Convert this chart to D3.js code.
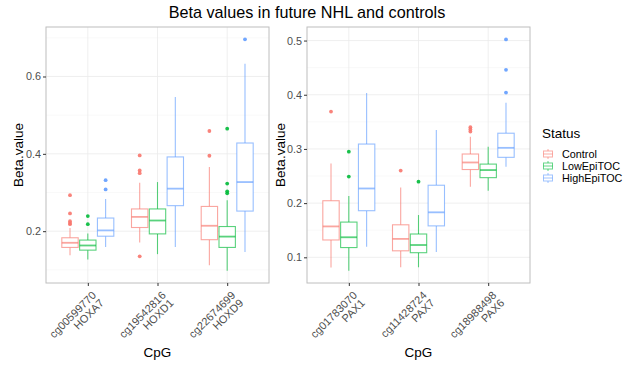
<!DOCTYPE html>
<html>
<head>
<meta charset="utf-8">
<script src="https://cdn.jsdelivr.net/npm/d3@7"></script>
<style>
  body { margin: 0; background: #fff; }
  svg { font-family: "Liberation Sans", Arial, sans-serif; }
</style>
</head>
<body>
<svg id="chart" width="641" height="376"></svg>
<script>
// status groups
const statuses = ["Control", "LowEpiTOC", "HighEpiTOC"];
const statusColors = ["#F8766D", "#00BA38", "#619CFF"];

// left panel (HOX genes): [lower whisker, q1, median, q3, upper whisker]
const hoxCpG = [["cg00599770", "HOXA7"], ["cg19542816", "HOXD1"], ["cg22674699", "HOXD9"]];
const hoxControl = [[0.138, 0.158, 0.170, 0.183, 0.208], [0.171, 0.2095, 0.237, 0.2575, 0.325], [0.112, 0.178, 0.214, 0.264, 0.366]];
const hoxLow = [[0.127, 0.151, 0.163, 0.177, 0.194], [0.1406, 0.193, 0.2276, 0.2575, 0.327], [0.0976, 0.158, 0.186, 0.212, 0.280]];
const hoxHigh = [[0.159, 0.187, 0.202, 0.234, 0.283], [0.159, 0.266, 0.310, 0.392, 0.547], [0.146, 0.252, 0.327, 0.428, 0.633]];
// outliers: [cpg index, status index, value]
const hoxOutliers = [
  [0, 0, 0.293], [0, 0, 0.246], [0, 0, 0.226], [0, 0, 0.221], [0, 0, 0.218],
  [0, 1, 0.239], [0, 1, 0.218],
  [0, 2, 0.332], [0, 2, 0.308],
  [1, 0, 0.396], [1, 0, 0.357], [1, 0, 0.350], [1, 0, 0.135],
  [2, 0, 0.459], [2, 0, 0.395],
  [2, 1, 0.465], [2, 1, 0.323], [2, 1, 0.303], [2, 1, 0.298],
  [2, 2, 0.696]
];
const hoxTicks = [0.2, 0.4, 0.6];
const hoxMinor = [0.1, 0.3, 0.5, 0.7];
const hoxDomain = [0.066, 0.728];

// right panel (PAX genes)
const paxCpG = [["cg01783070", "PAX1"], ["cg11428724", "PAX7"], ["cg18988498", "PAX6"]];
const paxControl = [[0.081, 0.132, 0.157, 0.2044, 0.273], [0.0816, 0.112, 0.134, 0.160, 0.229], [0.230, 0.262, 0.275, 0.2906, 0.3225]];
const paxLow = [[0.075, 0.118, 0.137, 0.165, 0.213], [0.0816, 0.1085, 0.1227, 0.143, 0.178], [0.223, 0.247, 0.261, 0.272, 0.304]];
const paxHigh = [[0.1196, 0.186, 0.227, 0.309, 0.403], [0.110, 0.158, 0.183, 0.233, 0.335], [0.267, 0.2845, 0.302, 0.329, 0.385]];
const paxOutliers = [
  [0, 0, 0.369],
  [0, 1, 0.295], [0, 1, 0.249],
  [1, 0, 0.260],
  [1, 1, 0.2395],
  [2, 0, 0.340], [2, 0, 0.336], [2, 0, 0.332],
  [2, 2, 0.502], [2, 2, 0.446], [2, 2, 0.404]
];
const paxTicks = [0.1, 0.2, 0.3, 0.4, 0.5];
const paxMinor = [0.15, 0.25, 0.35, 0.45];
const paxDomain = [0.0526, 0.525];

const svg = d3.select("#chart");
const panelTop = 27, panelBottom = 283;

svg.append("text")
    .attr("x", 307).attr("y", 18)
    .attr("text-anchor", "middle")
    .attr("font-size", 16.2)
    .attr("fill", "#000")
    .text("Beta values in future NHL and controls");

function drawPanel(left, right, cpgs, series, outliers, ticks, minor, domain, ylabX) {
    const x = d3.scaleLinear().domain([0.4, 3.6]).range([left, right]);
    const y = d3.scaleLinear().domain(domain).range([panelBottom, panelTop]);
    const dodge = d3.scaleBand().domain(statuses).range([-26, 26]).paddingInner(0.08);
    const g = svg.append("g");

    g.append("rect")
        .attr("x", left).attr("y", panelTop)
        .attr("width", right - left).attr("height", panelBottom - panelTop)
        .attr("fill", "#fff");

    // grid
    g.selectAll(".minor").data(minor.filter(v => v > domain[0] && v < domain[1])).enter()
        .append("line")
        .attr("x1", left).attr("x2", right)
        .attr("y1", d => y(d)).attr("y2", d => y(d))
        .attr("stroke", "#F2F2F2").attr("stroke-width", 0.5);
    g.selectAll(".major").data(ticks).enter()
        .append("line")
        .attr("x1", left).attr("x2", right)
        .attr("y1", d => y(d)).attr("y2", d => y(d))
        .attr("stroke", "#EBEBEB").attr("stroke-width", 0.8);
    g.selectAll(".vgrid").data(cpgs).enter()
        .append("line")
        .attr("x1", (d, i) => x(i + 1)).attr("x2", (d, i) => x(i + 1))
        .attr("y1", panelTop).attr("y2", panelBottom)
        .attr("stroke", "#EBEBEB").attr("stroke-width", 0.8);

    // boxes
    series.forEach((stats, s) => {
        const col = statusColors[s];
        const bw = dodge.bandwidth();
        stats.forEach((st, i) => {
            const cx = x(i + 1) + dodge(statuses[s]) + bw / 2;
            const bg = g.append("g")
                .attr("stroke", col).attr("stroke-opacity", 0.65)
                .attr("fill", "none");
            bg.append("line")
                .attr("x1", cx).attr("x2", cx)
                .attr("y1", y(st[3])).attr("y2", y(st[4]))
                .attr("stroke-width", 1.1);
            bg.append("line")
                .attr("x1", cx).attr("x2", cx)
                .attr("y1", y(st[1])).attr("y2", y(st[0]))
                .attr("stroke-width", 1.1);
            bg.append("rect")
                .attr("x", cx - bw / 2).attr("width", bw)
                .attr("y", y(st[3])).attr("height", y(st[1]) - y(st[3]))
                .attr("fill", "#fff")
                .attr("stroke-width", 1.1);
            bg.append("line")
                .attr("x1", cx - bw / 2).attr("x2", cx + bw / 2)
                .attr("y1", y(st[2])).attr("y2", y(st[2]))
                .attr("stroke-width", 1.8);
        });
    });

    // outliers
    g.selectAll(".outlier").data(outliers).enter()
        .append("circle")
        .attr("cx", d => x(d[0] + 1) + dodge(statuses[d[1]]) + dodge.bandwidth() / 2)
        .attr("cy", d => y(d[2]))
        .attr("r", 1.9)
        .attr("fill", d => statusColors[d[1]])
        .attr("fill-opacity", 0.9);

    // border
    g.append("rect")
        .attr("x", left).attr("y", panelTop)
        .attr("width", right - left).attr("height", panelBottom - panelTop)
        .attr("fill", "none").attr("stroke", "#BEBEBE").attr("stroke-width", 1);

    // y axis
    const yAxis = g.append("g")
        .attr("transform", `translate(${left},0)`)
        .call(d3.axisLeft(y).tickValues(ticks).tickFormat(d3.format(".1f")).tickSize(3).tickPadding(2));
    yAxis.select(".domain").remove();
    yAxis.selectAll(".tick line").attr("stroke", "#333");
    yAxis.selectAll(".tick text").attr("fill", "#4D4D4D").attr("font-size", 10.8)
        .attr("font-family", "Liberation Sans, Arial, sans-serif");

    // x axis
    const xAxis = g.append("g")
        .attr("transform", `translate(0,${panelBottom})`)
        .call(d3.axisBottom(x).tickValues([1, 2, 3]).tickFormat("").tickSize(3));
    xAxis.select(".domain").remove();
    xAxis.selectAll(".tick line").attr("stroke", "#333");

    cpgs.forEach((c, i) => {
        const t = g.append("text")
            .attr("transform", `translate(${x(i + 1) + 9},${panelBottom + 13}) rotate(-45)`)
            .attr("text-anchor", "end")
            .attr("font-size", 11)
            .attr("fill", "#4D4D4D");
        t.append("tspan").attr("x", 0).attr("y", 0).text(c[0]);
        t.append("tspan").attr("x", 0).attr("y", 11).text(c[1]);
    });

    g.append("text")
        .attr("x", (left + right) / 2).attr("y", 357)
        .attr("text-anchor", "middle")
        .attr("font-size", 13.5)
        .text("CpG");

    g.append("text")
        .attr("transform", `translate(${ylabX},${(panelTop + panelBottom) / 2}) rotate(-90)`)
        .attr("text-anchor", "middle")
        .attr("font-size", 13.5)
        .text("Beta.value");
}

drawPanel(46, 269, hoxCpG, [hoxControl, hoxLow, hoxHigh], hoxOutliers, hoxTicks, hoxMinor, hoxDomain, 23);
drawPanel(307, 530, paxCpG, [paxControl, paxLow, paxHigh], paxOutliers, paxTicks, paxMinor, paxDomain, 285);

// legend
const legend = svg.append("g");
legend.append("text")
    .attr("x", 542).attr("y", 138)
    .attr("font-size", 13.5)
    .text("Status");

const keys = legend.selectAll(".key").data(statuses).enter()
    .append("g")
    .attr("transform", (d, i) => `translate(548,${154 + i * 12})`);
keys.append("line")
    .attr("x1", 0).attr("x2", 0).attr("y1", -5).attr("y2", 5)
    .attr("stroke", (d, i) => statusColors[i]).attr("stroke-opacity", 0.6);
keys.append("rect")
    .attr("x", -4.5).attr("y", -3).attr("width", 9).attr("height", 6)
    .attr("fill", "#fff")
    .attr("stroke", (d, i) => statusColors[i]).attr("stroke-opacity", 0.6);
keys.append("line")
    .attr("x1", -4.5).attr("x2", 4.5).attr("y1", 0).attr("y2", 0)
    .attr("stroke", (d, i) => statusColors[i]).attr("stroke-opacity", 0.6);
keys.append("text")
    .attr("x", 14).attr("y", 3.8)
    .attr("font-size", 10.8)
    .attr("fill", "#000")
    .text(d => d);
</script>
</body>
</html>
